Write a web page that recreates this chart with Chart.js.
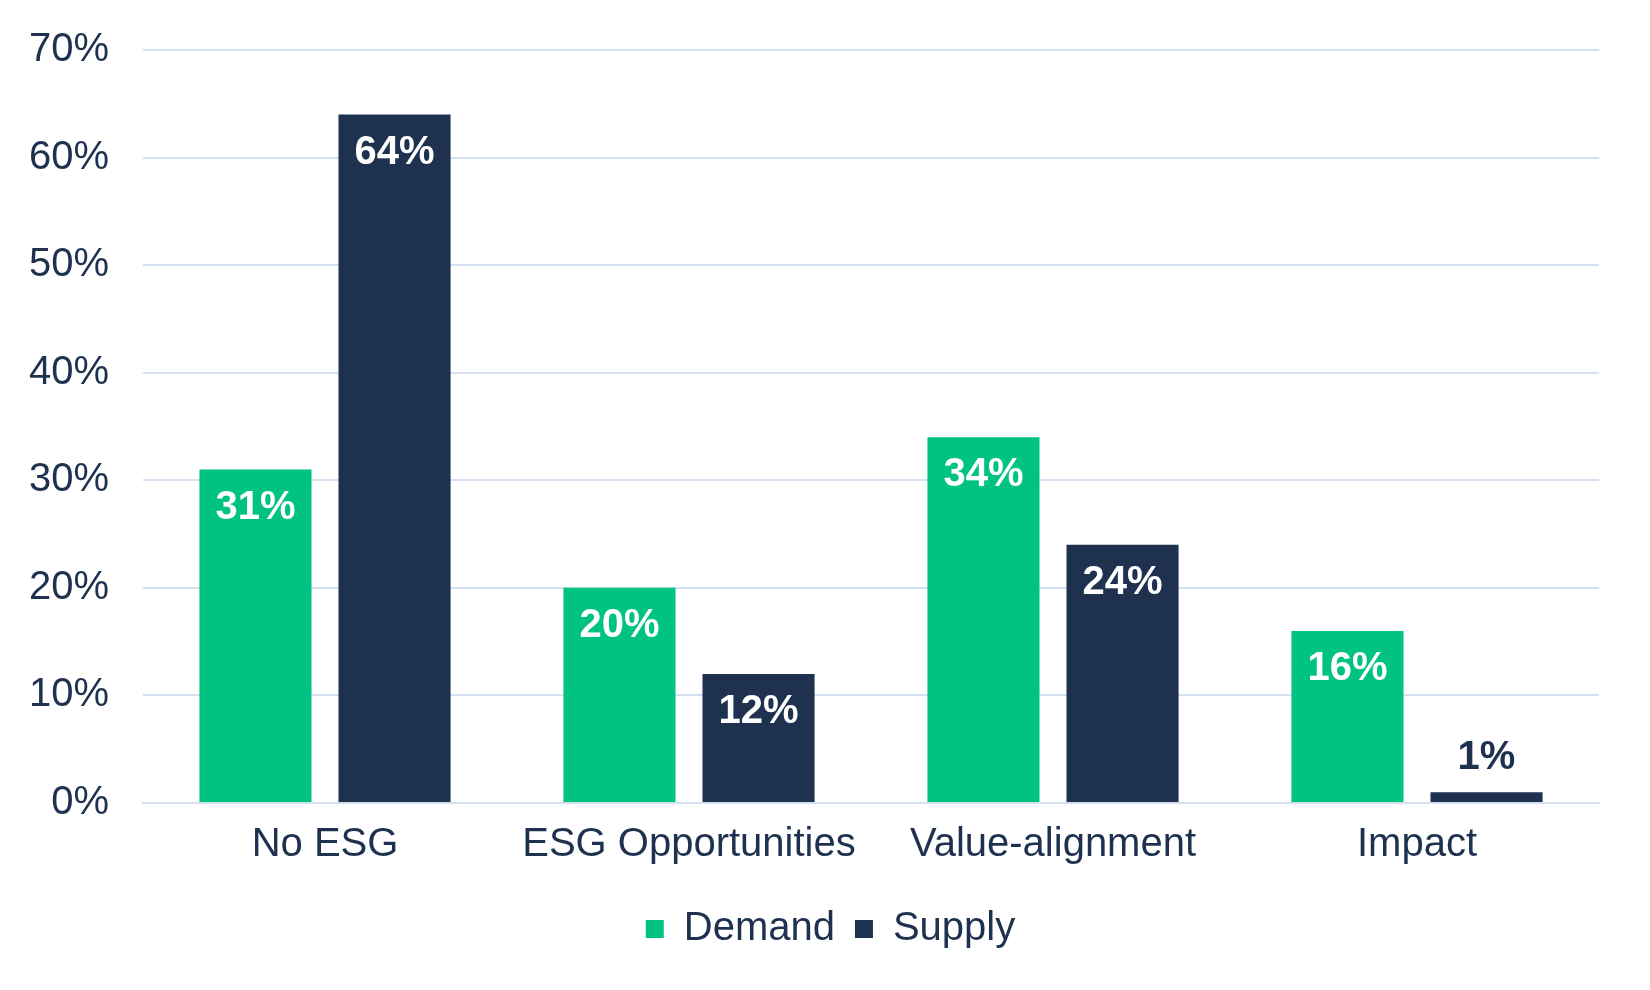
<!DOCTYPE html>
<html>
<head>
<meta charset="utf-8">
<script src="https://cdn.jsdelivr.net/npm/chart.js@4.4.0/dist/chart.umd.js"></script>
<style>
  html, body { margin: 0; padding: 0; background: #fff; }
  #wrap { width: 1650px; height: 990px; position: relative; }
</style>
</head>
<body>
<div id="wrap"><canvas id="chart"></canvas></div>
<script>
const categories = ['No ESG', 'ESG Opportunities', 'Value-alignment', 'Impact'];
const demandValues = [31, 20, 34, 16];
const supplyValues = [64, 12, 24, 1];
const yTicks = [0, 10, 20, 30, 40, 50, 60, 70];

const GREEN = '#00C281';
const NAVY = '#1E3250';
const GRID = '#D4E0F0';
const FONT = "'Liberation Sans', Arial, Helvetica, sans-serif";

// value labels: inside the bar top in white, above the bar when the bar is too short
const barLabels = {
    id: 'barLabels',
    afterDatasetsDraw(chart) {
        const ctx = chart.ctx;
        ctx.save();
        ctx.font = 'bold 40px ' + FONT;
        ctx.textAlign = 'center';
        ctx.textBaseline = 'middle';
        chart.data.datasets.forEach((ds, i) => {
            const meta = chart.getDatasetMeta(i);
            meta.data.forEach((bar, j) => {
                const v = ds.data[j];
                const h = bar.base - bar.y;
                if (h > 60) {
                    ctx.fillStyle = '#ffffff';
                    ctx.fillText(v + '%', bar.x, bar.y + 38);
                } else {
                    ctx.fillStyle = NAVY;
                    ctx.fillText(v + '%', bar.x, bar.y - 34);
                }
            });
        });
        ctx.restore();
    }
};

// legend in the reference sits a bit right of the chart centre
const legendShift = {
    id: 'legendShift',
    afterLayout(chart) {
        chart.legend.left += 31;
        chart.legend.right += 31;
    }
};

const ctx = document.getElementById('chart').getContext('2d');
new Chart(ctx, {
    type: 'bar',
    data: {
        labels: categories,
        datasets: [
            {
                label: 'Demand',
                data: demandValues,
                backgroundColor: GREEN,
                borderWidth: 0,
                barPercentage: 0.806,
                categoryPercentage: 0.764
            },
            {
                label: 'Supply',
                data: supplyValues,
                backgroundColor: NAVY,
                borderWidth: 0,
                barPercentage: 0.806,
                categoryPercentage: 0.764
            }
        ]
    },
    options: {
        responsive: true,
        maintainAspectRatio: false,
        animation: false,
        layout: {
            padding: { top: 50, right: 51, left: 0, bottom: 31 }
        },
        plugins: {
            legend: {
                display: true,
                position: 'bottom',
                labels: {
                    font: { family: FONT, size: 40 },
                    color: NAVY,
                    boxWidth: 18,
                    boxHeight: 18,
                    padding: 20
                }
            },
            tooltip: { enabled: false }
        },
        scales: {
            y: {
                min: 0,
                max: 70,
                afterFit(scale) {
                    scale.width = 143;
                    scale.paddingTop = 0;
                    scale.paddingBottom = 0;
                },
                afterBuildTicks(scale) { scale.ticks = yTicks.map(v => ({ value: v })); },
                ticks: {
                    font: { family: FONT, size: 40 },
                    color: NAVY,
                    padding: 34,
                    callback: v => v + '%'
                },
                grid: {
                    color: GRID,
                    lineWidth: 2,
                    drawTicks: false
                },
                border: { display: false }
            },
            x: {
                afterFit(scale) { scale.height = 86; },
                ticks: {
                    font: { family: FONT, size: 40 },
                    color: NAVY,
                    padding: 18
                },
                grid: { display: false, drawTicks: false },
                border: { display: true, color: GRID, width: 2 }
            }
        }
    },
    plugins: [barLabels, legendShift]
});
</script>
</body>
</html>
